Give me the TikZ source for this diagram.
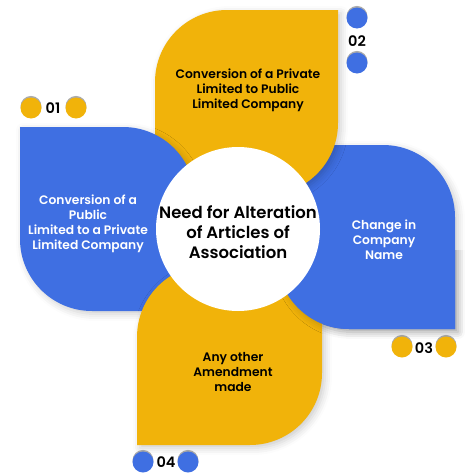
\documentclass[tikz,border=0pt]{standalone}
\usepackage{fontspec}
\newfontfamily\popsb{Poppins SemiBold}
\usetikzlibrary{shadows,shadows.blur}
\definecolor{pyellow}{HTML}{F1B30A}
\definecolor{pblue}{HTML}{3F6FE2}
\begin{document}
\begin{tikzpicture}[x=1pt,y=-1pt,
  petalshadow/.style={blur shadow={shadow xshift=3pt,shadow yshift=-3pt,shadow opacity=20,shadow blur radius=7pt}},
  ptext/.style={align=center,font=\popsb\fontsize{12.3}{15}\selectfont,inner sep=0pt},
  ctext/.style={align=center,font=\popsb\fontsize{16.5}{20.3}\selectfont,inner sep=0pt},
  numtext/.style={font=\popsb\fontsize{14.5}{14.5}\selectfont,inner sep=0pt},
  dotnode/.style={circle,minimum size=21pt,inner sep=0pt,draw=none,
    general shadow={fill=black!60,opacity=.55,shadow yshift=1.6pt}}]
\useasboundingbox (0,0) rectangle (474,474);
% right petal (blue)
\fill[pblue,petalshadow] (277,145) -- (383,145) arc[start angle=270,end angle=360,radius=72]
  -- (455,329) -- (349,329) arc[start angle=90,end angle=180,radius=72] -- cycle;
% top petal (yellow)
\fill[pyellow,petalshadow] (155,195) -- (155,82) arc[start angle=180,end angle=270,radius=72]
  -- (338,10) -- (338,123) arc[start angle=0,end angle=90,radius=72] -- cycle;
% left petal (blue)
\fill[pblue,petalshadow] (20,127) -- (123,127) arc[start angle=270,end angle=360,radius=72]
  -- (195,311) -- (92,311) arc[start angle=90,end angle=180,radius=72] -- cycle;
% bottom petal (yellow)
\fill[pyellow,petalshadow] (322,265) -- (322,373) arc[start angle=0,end angle=90,radius=72]
  -- (137,445) -- (137,337) arc[start angle=180,end angle=270,radius=72] -- cycle;
% right petal again, over the bottom one
\begin{scope}
\clip (250,250) rectangle (474,474);
\fill[pblue,petalshadow] (277,145) -- (383,145) arc[start angle=270,end angle=360,radius=72]
  -- (455,329) -- (349,329) arc[start angle=90,end angle=180,radius=72] -- cycle;
\end{scope}
% centre
\node[circle,fill=white,minimum size=164pt,inner sep=0pt] (c) at (238,229) {};
\node[ctext] (ct) at (238,232) {Need for Alteration\\of Articles of\\Association};
% petal texts
\node[ptext] (t2) at (248,90) {Conversion of a Private\\Limited to Public\\Limited Company};
\node[ptext,text=white] (t1) at (88,224) {Conversion of a\\Public\\Limited to a Private\\Limited Company};
\node[ptext,text=white] (t3) at (384,240) {Change in\\Company\\Name};
\node[ptext] (t4) at (233,372) {Any other\\Amendment\\made};
% number badges
\node[dotnode,fill=pyellow] (d1a) at (31,108) {};
\node[numtext] (n1) at (53,108) {01};
\node[dotnode,fill=pyellow] (d1b) at (76,108) {};
\node[dotnode,fill=pblue] (d2a) at (357,18) {};
\node[numtext] (n2) at (357,41) {02};
\node[dotnode,fill=pblue] (d2b) at (357,63) {};
\node[dotnode,fill=pyellow] (d3a) at (402,347) {};
\node[numtext] (n3) at (424,348) {03};
\node[dotnode,fill=pyellow] (d3b) at (446,347) {};
\node[dotnode,fill=pblue] (d4a) at (143,462) {};
\node[numtext] (n4) at (166,462) {04};
\node[dotnode,fill=pblue] (d4b) at (188,462) {};
\end{tikzpicture}
\end{document}
